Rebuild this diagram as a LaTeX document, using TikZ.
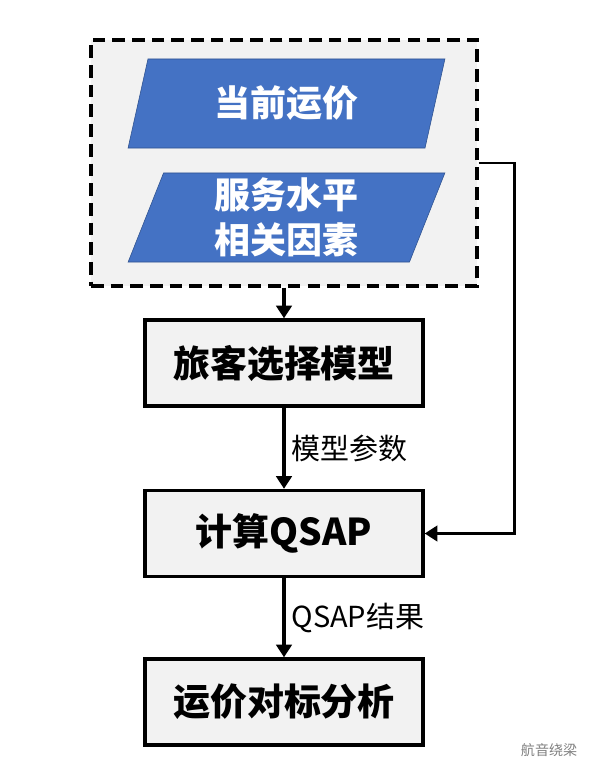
\documentclass[tikz,border=0pt]{standalone}
\usepackage{fontspec}
\setmainfont{Noto Sans CJK SC}
\usetikzlibrary{positioning,shapes.geometric,arrows.meta}
\definecolor{inblue}{HTML}{4472C4}
\definecolor{inedge}{HTML}{2F528F}
\definecolor{boxgray}{HTML}{F2F2F2}

\begin{document}
\begin{tikzpicture}[x=0.025cm, y=-0.025cm,
        inputs/.style={rectangle, draw=black, fill=boxgray, line width=2.4pt, dash pattern=on 9pt off 5pt, minimum width=9.65cm, minimum height=6.15cm},
        para/.style={trapezium, trapezium left angle=76, trapezium right angle=104, trapezium stretches=true, draw=inedge, fill=inblue, text=white, minimum width=7.925cm, minimum height=2.225cm, align=center, font=\fontsize{25.6}{32}\selectfont\bfseries},
        stepbox/.style={rectangle, draw=black, fill=boxgray, line width=2.4pt, minimum width=6.95cm, minimum height=2.15cm, font=\fontsize{26.3}{30}\selectfont\bfseries},
        flow/.style={-{Triangle[width=11pt, length=9pt]}, line width=2.8pt},
        lbl/.style={right, inner sep=4pt, font=\fontsize{20.6}{24}\selectfont}
    ]
    \useasboundingbox (0,0) rectangle (592,776);

    % input group
    \node[inputs] (group) at (284, 163) {};
    \node[para] (price) at (286.5, 103.5) {当前运价};
    \node[para] (service) at (286.5, 217.5) {服务水平\\相关因素};

    % main chain
    \node[stepbox] (choice) at (284, 363) {旅客选择模型};
    \node[stepbox] (qsap) at (284, 533.5) {计算QSAP};
    \node[stepbox] (bench) at (284, 702) {运价对标分析};

    \draw[flow] (group) -- (choice);
    \draw[flow] (choice) -- node[lbl] {模型参数} (qsap);
    \draw[flow] (qsap) -- node[lbl] {QSAP结果} (bench);
    \draw[flow, line width=2pt] (group.east) -- ++(36,0) |- (qsap.east);

    % watermark
    \node[anchor=west, text=gray, font=\fontsize{10}{12}\selectfont] (mark) at (516, 750) {航音绕梁};
\end{tikzpicture}
\end{document}
